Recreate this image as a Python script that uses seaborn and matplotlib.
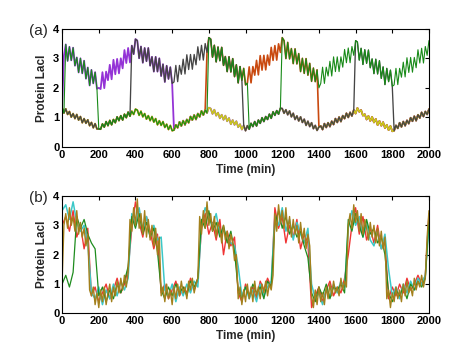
import numpy as np
import pandas as pd
import matplotlib
matplotlib.use("Agg")
import matplotlib.pyplot as plt
import seaborn as sns

#------------------------------ Datos panel (a) ------------------------------#
# tiempo cada 10 min, rama alta y rama baja
time_a = np.arange(0, 2001, 10)

upper_branch = [
    3.70, 3.09, 3.47, 2.91, 3.39, 2.93, 3.36, 2.75, 3.03, 2.52, 3.00, 2.49, 2.92, 2.31, 2.69, 2.08, 2.61, 2.15, 2.53, 1.97, 2.00,
    1.96, 2.53, 1.99, 2.55, 2.26, 2.78, 2.29, 2.95, 2.46, 2.98, 2.49, 3.00, 2.66, 3.28, 2.84, 3.35, 2.86, 3.43, 3.14, 3.65,
    3.60, 3.00, 3.40, 2.85, 3.35, 2.90, 3.35, 2.75, 3.05, 2.55, 3.05, 2.55, 3.00, 2.40, 2.80, 2.20, 2.75, 2.30, 2.70, 2.15,
    2.20, 2.76, 2.21, 2.76, 2.46, 2.97, 2.47, 3.12, 2.62, 3.13, 2.63, 3.13, 2.78, 3.39, 2.94, 3.44, 2.94, 3.50, 3.20, 3.70,
    3.65, 3.04, 3.44, 2.88, 3.38, 2.92, 3.37, 2.76, 3.06, 2.55, 3.05, 2.54, 2.99, 2.38, 2.78, 2.17, 2.72, 2.26, 2.66, 2.10,
    2.16, 2.71, 2.17, 2.72, 2.43, 2.93, 2.44, 3.09, 2.60, 3.10, 2.61, 3.11, 2.77, 3.37, 2.93, 3.43, 2.94, 3.49, 3.20, 3.70,
    3.60, 2.99, 3.54, 2.98, 3.33, 2.82, 3.32, 2.81, 3.16, 2.55, 3.00, 2.49, 2.99, 2.43, 2.83, 2.22, 2.67, 2.21, 2.61, 2.00,
    2.15, 2.70, 2.15, 2.70, 2.40, 2.90, 2.40, 3.05, 2.55, 3.05, 2.55, 3.05, 2.70, 3.30, 2.85, 3.35, 2.85, 3.40, 3.10, 3.60,
    3.55, 2.94, 3.34, 2.79, 3.29, 2.83, 3.28, 2.68, 2.98, 2.48, 2.97, 2.47, 2.92, 2.32, 2.71, 2.11, 2.66, 2.21, 2.60, 2.05,
    2.10, 2.66, 2.11, 2.66, 2.36, 2.87, 2.37, 3.02, 2.52, 3.03, 2.53, 3.03, 2.68, 3.29, 2.84, 3.34, 2.84, 3.40, 3.10, 3.60,
]

lower_branch = [
    1.33, 1.15, 1.29, 1.10, 1.20, 1.01, 1.13, 0.96, 1.10, 0.91, 1.03, 0.82, 0.96, 0.80, 0.92, 0.72, 0.83, 0.65, 0.79, 0.61, 0.61,
    0.60, 0.78, 0.67, 0.86, 0.72, 0.90, 0.75, 0.93, 0.82, 1.02, 0.89, 1.06, 0.91, 1.11, 0.99, 1.18, 1.04, 1.21, 1.10, 1.28,
    1.25, 1.07, 1.21, 1.02, 1.13, 0.94, 1.06, 0.89, 1.03, 0.84, 0.96, 0.75, 0.89, 0.73, 0.86, 0.66, 0.77, 0.59, 0.73, 0.55,
    0.57, 0.75, 0.65, 0.85, 0.71, 0.89, 0.75, 0.93, 0.82, 1.03, 0.91, 1.08, 0.93, 1.13, 1.02, 1.22, 1.08, 1.25, 1.15, 1.33,
    1.30, 1.12, 1.26, 1.06, 1.16, 0.97, 1.09, 0.92, 1.06, 0.87, 0.98, 0.77, 0.91, 0.75, 0.87, 0.67, 0.77, 0.59, 0.73, 0.55,
    0.72, 0.60, 0.80, 0.69, 0.86, 0.71, 0.91, 0.80, 0.99, 0.86, 1.03, 0.93, 1.11, 0.97, 1.19, 1.07, 1.23, 1.11, 1.31, 1.30,
    1.14, 1.26, 1.09, 1.22, 1.02, 1.14, 0.93, 1.05, 0.88, 1.02, 0.83, 0.94, 0.73, 0.87, 0.69, 0.82, 0.62, 0.73, 0.56, 0.68,
    0.71, 0.59, 0.79, 0.66, 0.82, 0.69, 0.87, 0.76, 0.96, 0.83, 1.01, 0.86, 1.06, 0.96, 1.14, 1.00, 1.17, 1.05, 1.25, 1.13,
    1.32, 1.19, 1.25, 1.06, 1.11, 0.93, 1.05, 0.88, 1.02, 0.83, 0.95, 0.74, 0.88, 0.72, 0.84, 0.64, 0.75, 0.57, 0.71, 0.53,
    0.55, 0.73, 0.63, 0.82, 0.68, 0.86, 0.72, 0.90, 0.79, 0.99, 0.87, 1.04, 0.89, 1.09, 0.98, 1.17, 1.03, 1.20, 1.10, 1.28,
]

# momentos de salto de cada celula (todas empiezan en la rama baja)
cells_a = ["purple", "orange", "yellow", "gray", "green"]
switches_a = {
    "purple": [10, 610],
    "orange": [790, 1400],
    "yellow": [],
    "gray": [380, 990, 1600, 1810],
    "green": [20, 200, 800, 1020, 1200],
}
colors_a = {"purple": "#9433d6", "orange": "#c9490f", "yellow": "#c8c81e",
            "gray": "#454545", "green": "#178a17"}
widths_a = {"purple": 1.3, "orange": 1.2, "yellow": 1.15, "gray": 0.95, "green": 0.8}

#------------------------------ Datos panel (b) ------------------------------#
time_b_gold = np.arange(0, 2001, 10)
gold_b = [
    1.1, 3.0, 3.4, 2.9, 3.6, 3.0, 3.3, 2.8, 3.5, 2.7, 3.1, 2.6, 2.9, 2.3, 2.7,
    0.8, 0.6, 0.9, 0.3, 0.7, 0.2, 0.8, 0.4, 0.9, 0.3, 0.7, 1.0, 0.4, 0.9, 0.6, 1.1, 0.7, 1.2, 0.8, 1.3, 0.9, 1.4,
    3.2, 2.8, 3.6, 3.0, 3.9, 2.9, 3.4, 2.7, 3.5, 2.6, 3.2, 2.5, 3.0, 2.3, 2.9, 2.0, 2.6,
    0.6, 0.9, 0.4, 1.0, 0.5, 0.8, 0.3, 0.9, 0.5, 1.0, 0.6, 1.1, 0.7, 0.9, 0.5, 1.1, 0.8, 1.2, 0.7, 1.0, 1.2,
    3.3, 2.7, 3.5, 2.9, 3.8, 3.0, 3.4, 2.8, 3.3, 2.6, 3.1, 2.9, 2.4, 3.0, 2.5, 2.8, 2.2, 2.7, 2.4, 1.8, 2.0,
    0.5, 0.9, 0.3, 0.8, 0.4, 1.0, 0.5, 0.9, 0.4, 1.1, 0.6, 0.9, 0.5, 1.0, 0.7, 1.1, 0.6, 1.0, 0.8, 1.3,
    3.4, 2.8, 3.7, 3.1, 3.5, 2.9, 3.6, 2.8, 3.3, 2.6, 3.2, 2.7, 3.0, 2.4, 3.1, 2.5, 2.9, 2.2, 2.7, 2.3,
    0.6, 0.2, 0.8, 0.3, 0.9, 0.4, 0.7, 0.3, 0.9, 0.5, 1.0, 0.6, 1.1, 0.7, 0.9, 0.6, 1.2, 0.8, 1.1, 0.9,
    3.0, 3.4, 2.9, 3.7, 3.1, 3.5, 2.8, 3.4, 2.7, 3.2, 2.9, 2.5, 3.1, 2.6, 3.0, 2.4, 2.9, 2.3, 2.8, 2.2, 2.6,
    0.5, 0.8, 0.2, 0.7, 0.4, 0.9, 0.5, 0.8, 0.4, 1.0, 0.6, 1.1, 0.7, 0.9, 0.6, 1.2, 0.8, 1.1, 0.9, 1.3, 0.9, 1.2,
    2.6, 3.5,
]

time_b = np.arange(0, 2001, 20)
cyan_b = [
    3.5, 3.7, 3.2, 3.8, 3.1, 2.8, 3.0, 2.4, 0.7, 0.5, 0.9, 0.3, 0.8, 0.5, 1.0, 0.6, 1.1, 0.8, 1.2,
    3.4, 3.0, 3.6, 2.8, 3.3, 2.6, 3.0, 2.5, 2.6, 0.8, 0.6, 1.0, 0.4, 0.9, 0.6, 1.0, 0.7, 1.1, 0.9,
    3.1, 3.6, 3.3, 3.0, 3.4, 2.7, 2.9, 2.5, 2.4, 2.3, 1.6, 0.6, 0.9, 0.5, 0.8, 0.4, 1.0, 0.6, 0.9, 1.1,
    3.3, 3.0, 3.6, 2.8, 3.2, 2.5, 3.1, 2.7, 2.4, 2.9, 1.0, 0.5, 0.7, 0.3, 0.8, 0.6, 1.0, 0.7, 1.1, 0.9,
    2.9, 3.5, 3.0, 3.3, 2.6, 3.1, 2.5, 2.3, 2.8, 2.2, 2.7, 1.5, 0.6, 0.9, 0.5, 1.0, 0.7, 1.1, 0.8, 1.2, 1.0, 1.3,
    3.0,
]
red_b = [
    3.0, 3.3, 2.8, 3.5, 2.6, 3.0, 2.2, 2.9, 0.6, 0.9, 0.4, 0.7, 1.0, 0.5, 0.8, 1.2, 0.7, 1.0, 1.5,
    2.9, 3.8, 3.1, 2.6, 3.3, 2.8, 2.2, 2.7, 0.7, 1.0, 0.5, 0.8, 1.1, 0.6, 0.9, 0.7, 1.2, 0.8, 1.1,
    2.9, 3.4, 2.7, 3.1, 2.5, 3.2, 2.0, 2.8, 2.3, 2.6, 0.7, 0.4, 1.0, 0.6, 0.9, 0.5, 1.1, 0.8, 1.2, 0.9,
    3.6, 2.9, 3.3, 2.4, 3.0, 2.6, 3.2, 2.2, 2.7, 2.4, 0.2, 0.6, 0.9, 0.4, 0.8, 1.1, 0.6, 0.9, 0.7, 1.2,
    2.0, 3.0, 3.6, 2.7, 3.3, 2.5, 2.9, 2.4, 3.0, 2.2, 2.5, 0.5, 0.9, 0.6, 1.0, 0.7, 1.2, 0.8, 1.0, 1.3, 1.0, 1.3,
    3.4,
]
green_b = [
    1.0, 1.3, 0.9, 1.4, 3.3, 2.9, 3.2, 2.7, 2.4, 2.2, 0.6, 0.9, 0.4, 0.8, 0.5, 1.0, 0.7, 1.1, 1.6,
    3.3, 2.9, 3.4, 2.7, 3.1, 2.6, 2.9, 2.1, 0.8, 0.5, 0.9, 0.6, 1.0, 0.7, 0.9, 0.6, 1.1, 0.9, 1.2,
    3.2, 2.9, 3.5, 2.8, 3.1, 2.6, 3.0, 2.4, 2.8, 2.1, 0.8, 0.5, 0.9, 0.6, 1.0, 0.7, 0.9, 0.5, 1.1, 0.9,
    3.0, 3.5, 2.9, 3.3, 2.7, 3.0, 2.6, 2.8, 2.3, 1.9, 0.7, 0.4, 0.9, 0.6, 1.0, 0.5, 0.9, 0.8, 1.0, 0.7,
    3.2, 2.8, 3.4, 3.0, 2.6, 3.2, 2.7, 2.9, 2.4, 2.6, 2.0, 0.7, 0.4, 0.8, 0.6, 0.9, 0.5, 1.0, 0.8, 1.1, 0.9, 1.2,
    3.2,
]

#------------------------------ Construir trayectorias (a) ------------------------------#
upper_arr = np.array(upper_branch)
lower_arr = np.array(lower_branch)
rows = []
for cell in cells_a:
    is_up = np.zeros(len(time_a), dtype=bool)
    for s in switches_a[cell]:
        is_up ^= time_a >= s
    y = np.where(is_up, upper_arr, lower_arr)
    rows.append(pd.DataFrame({"time": time_a, "lacI": y, "cell": cell}))
df_a = pd.concat(rows, ignore_index=True)

#------------------------------ Figura ------------------------------#
sns.set_style("white")
plt.rcParams["font.family"] = ["Liberation Sans", "DejaVu Sans"]
plt.rcParams["font.weight"] = "bold"

fig = plt.figure(figsize=(4.74, 3.55), dpi=100)
ax_a = fig.add_axes([0.131, 0.586, 0.774, 0.333])
ax_b = fig.add_axes([0.131, 0.117, 0.774, 0.331])

for cell in cells_a:
    sns.lineplot(data=df_a[df_a["cell"] == cell], x="time", y="lacI", ax=ax_a,
                 color=colors_a[cell], lw=widths_a[cell], estimator=None, sort=False)

sns.lineplot(x=time_b, y=red_b, ax=ax_b, color="#f03434", lw=1.0, estimator=None)
sns.lineplot(x=time_b, y=cyan_b, ax=ax_b, color="#3cc8c8", lw=1.1, estimator=None)
sns.lineplot(x=time_b, y=green_b, ax=ax_b, color="#1e8c1e", lw=0.9, estimator=None)
sns.lineplot(x=time_b_gold, y=gold_b, ax=ax_b, color="#a3801c", lw=1.0, estimator=None)

for ax, tag in [(ax_a, "(a)"), (ax_b, "(b)")]:
    ax.set_xlim(0, 2000)
    ax.set_ylim(0, 4)
    ax.set_xticks(range(0, 2001, 200))
    ax.set_yticks([0, 1, 2, 3, 4])
    ax.tick_params(direction="in", length=3, width=0.8, top=True, right=True,
                   labelsize=8, pad=2, colors="black")
    for lab in ax.get_xticklabels() + ax.get_yticklabels():
        lab.set_fontweight("bold")
    for sp in ax.spines.values():
        sp.set_linewidth(0.8)
        sp.set_color("black")
    ax.set_xlabel("Time (min)", fontsize=8.5, fontweight="bold", labelpad=3)
    ax.set_ylabel("Protein LacI", fontsize=8.5, fontweight="bold", labelpad=4)
    ax.text(-0.04, 0.98, tag, transform=ax.transAxes, fontsize=11,
            fontweight="normal", ha="right", va="center")

fig.savefig("out.png", dpi=100)
